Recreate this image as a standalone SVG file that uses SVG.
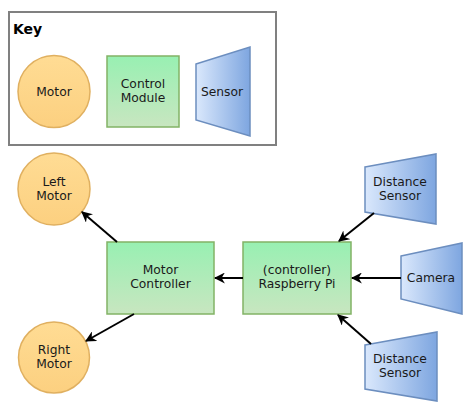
<svg xmlns="http://www.w3.org/2000/svg" width="474" height="411" viewBox="0 0 474 411">
<defs>
<linearGradient id="gMotor" x1="0" y1="0" x2="0" y2="1"><stop offset="0" stop-color="#ffdc94"/><stop offset="1" stop-color="#fcd080"/></linearGradient>
<linearGradient id="gCtrl" x1="0" y1="0" x2="0" y2="1"><stop offset="0" stop-color="#98f0b2"/><stop offset="1" stop-color="#c8e6c0"/></linearGradient>
<linearGradient id="gSens" x1="0" y1="0" x2="1" y2="0"><stop offset="0" stop-color="#dae8fc"/><stop offset="1" stop-color="#7ea6e0"/></linearGradient>
<marker id="arr" viewBox="0 0 10 10" refX="9" refY="5" markerWidth="11" markerHeight="11" markerUnits="userSpaceOnUse" orient="auto"><path d="M0,0 L10,5 L0,10 L3,5 Z" fill="#000"/></marker>
</defs>
<style>
.motor{fill:url(#gMotor);stroke:#e0b060;stroke-width:1.5}
.ctrl{fill:url(#gCtrl);stroke:#82b366;stroke-width:1.5}
.sens{fill:url(#gSens);stroke:#6c8ebf;stroke-width:1.5}
.t{font-family:"DejaVu Sans",Verdana,sans-serif;font-size:12.3px;fill:#1a1a1a;text-anchor:middle}
.edge{stroke:#000;stroke-width:2;fill:none;marker-end:url(#arr)}
</style>
<rect width="474" height="411" fill="#fff"/>
<g id="key">
<rect x="9" y="12" width="267" height="133" fill="#fff" stroke="#808080" stroke-width="2"/>
<text x="13" y="34" font-family="DejaVu Sans,Verdana,sans-serif" font-size="14" font-weight="bold" fill="#000">Key</text>
</g>
<g id="key-motor"><circle class="motor" cx="54" cy="91.5" r="36"/><text class="t" x="54" y="96">Motor</text></g>
<g id="key-control"><rect class="ctrl" x="107" y="56" width="72" height="71"/><text class="t" x="143" y="88">Control</text><text class="t" x="143" y="102">Module</text></g>
<g id="key-sensor"><polygon class="sens" points="196,64 250,47 250,136 196,120"/><text class="t" x="222" y="96">Sensor</text></g>

<g id="left-motor"><circle class="motor" cx="54" cy="189" r="36"/><text class="t" x="54" y="186">Left</text><text class="t" x="54" y="200">Motor</text></g>
<g id="right-motor"><circle class="motor" cx="54" cy="357.5" r="35.5"/><text class="t" x="54" y="354">Right</text><text class="t" x="54" y="368">Motor</text></g>
<g id="motor-controller"><rect class="ctrl" x="107" y="242" width="107" height="72"/><text class="t" x="160.5" y="274">Motor</text><text class="t" x="160.5" y="288">Controller</text></g>
<g id="raspberry-pi"><rect class="ctrl" x="243" y="242" width="108" height="72"/><text class="t" x="297" y="274">(controller)</text><text class="t" x="297" y="288">Raspberry Pi</text></g>
<g id="distance-sensor-top"><polygon class="sens" points="365,167 436,154 436,224 365,212"/><text class="t" x="400" y="186">Distance</text><text class="t" x="400" y="200">Sensor</text></g>
<g id="camera"><polygon class="sens" points="401,256 462,243 462,314 401,299"/><text class="t" x="431" y="282">Camera</text></g>
<g id="distance-sensor-bottom"><polygon class="sens" points="365,345 437,332 437,401 365,389"/><text class="t" x="400" y="363">Distance</text><text class="t" x="400" y="377">Sensor</text></g>

<g id="connectors">
<line class="edge" x1="117" y1="242" x2="82" y2="212"/>
<line class="edge" x1="134" y1="314" x2="86" y2="341"/>
<line class="edge" x1="243" y1="278" x2="215" y2="278"/>
<line class="edge" x1="374" y1="213" x2="339" y2="241"/>
<line class="edge" x1="401" y1="278" x2="352" y2="278"/>
<line class="edge" x1="371" y1="344" x2="338" y2="315"/>
</g>
</svg>
